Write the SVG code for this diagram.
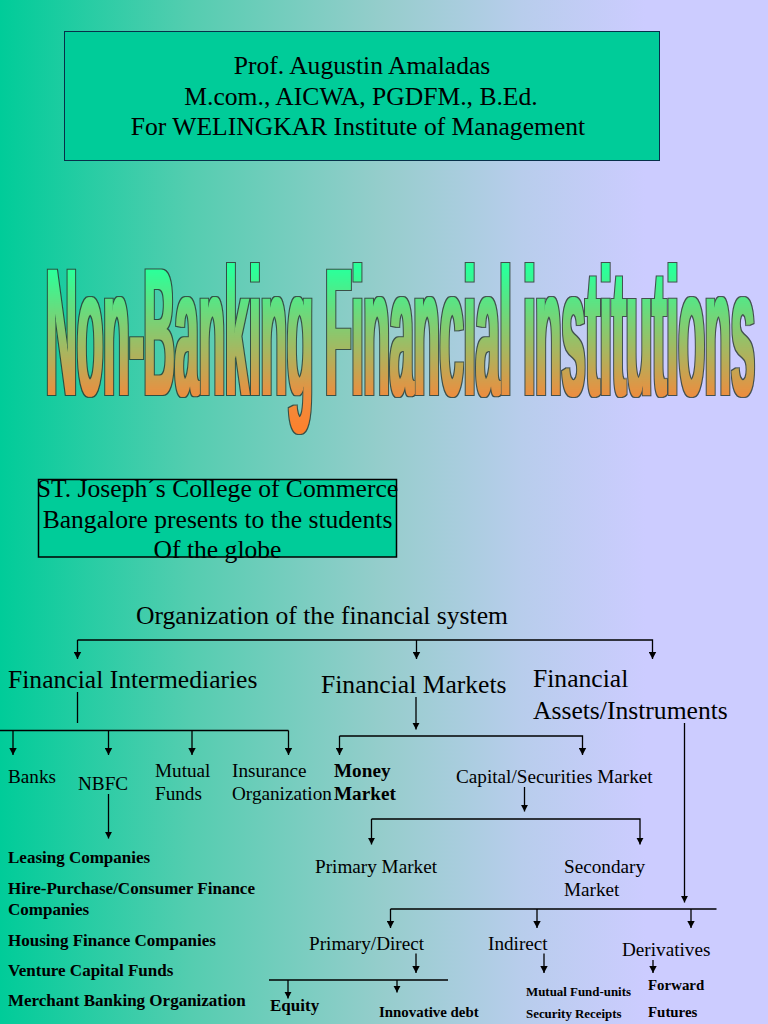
<svg xmlns="http://www.w3.org/2000/svg" width="768" height="1024" viewBox="0 0 768 1024">
<style>
text{font-family:"Liberation Serif","Times New Roman",serif;fill:#000}
.l{font-size:25.6px}.m{font-size:19.2px}.c{text-anchor:middle}
.b{font-weight:bold;font-size:17px}
.box{fill:#00cc99;stroke:#06304a;stroke-width:1}
#connectors path{fill:none;stroke:#000;stroke-width:1.3}
.a{marker-end:url(#arrow)}
</style>
<defs>
<linearGradient id="bg" x1="0" y1="0" x2="1" y2="0"><stop offset="0" stop-color="#00cc99"/><stop offset="0.25" stop-color="#55cdb0"/><stop offset="0.5" stop-color="#96cdcc"/><stop offset="0.68" stop-color="#b8cdec"/><stop offset="0.84" stop-color="#ccccff"/><stop offset="1" stop-color="#ccccff"/></linearGradient>
<linearGradient id="wa" gradientUnits="userSpaceOnUse" x1="0" y1="264" x2="0" y2="435"><stop offset="0.04" stop-color="#2cff99"/><stop offset="0.78" stop-color="#ee8c3e"/><stop offset="1" stop-color="#ff7f2a"/></linearGradient>
<filter id="wordart" x="-2%" y="-5%" width="104%" height="110%" color-interpolation-filters="sRGB">
<feMorphology in="SourceGraphic" operator="dilate" radius="1 0" result="fat"/>
<feMorphology in="SourceAlpha" operator="dilate" radius="2 1" result="edge"/>
<feFlood flood-color="#2b3a30" flood-opacity="0.85"/>
<feComposite in2="edge" operator="in" result="rim"/>
<feMerge><feMergeNode in="rim"/><feMergeNode in="fat"/></feMerge>
</filter>
<marker id="arrow" markerUnits="userSpaceOnUse" markerWidth="8" markerHeight="8" refX="7" refY="4" orient="auto"><path d="M0 0.3L7 4L0 7.7Z" style="stroke:none;fill:#000"/></marker>
</defs>
<rect width="768" height="1024" fill="url(#bg)"/>
<g id="header"><rect class="box" x="64.5" y="31.5" width="595" height="129"/>
<text class="l c" x="362" y="74">Prof. Augustin Amaladas</text>
<text class="l c" x="361" y="105">M.com., AICWA, PGDFM., B.Ed.</text>
<text class="l c" x="358" y="135">For WELINGKAR Institute of Management</text></g>
<g id="title" filter="url(#wordart)"><text transform="translate(46 395) scale(0.2374 1)" x="0" y="0" font-size="181" font-weight="bold" style="font-family:'Liberation Sans',Arial,sans-serif;fill:url(#wa2)">Non-Banking Financial institutions</text></g>
<defs><linearGradient id="wa2" gradientUnits="userSpaceOnUse" x1="0" y1="-131" x2="0" y2="40"><stop offset="0.04" stop-color="#2cff99"/><stop offset="0.78" stop-color="#ee8c3e"/><stop offset="1" stop-color="#ff7f2a"/></linearGradient></defs>
<g id="college"><rect x="38.5" y="479.5" width="358" height="77.5" fill="#00cc99" stroke="#000" stroke-width="1.5"/>
<text class="l c" x="217.5" y="497">ST. Joseph´s College of Commerce</text>
<text class="l c" x="217.5" y="528">Bangalore presents to the students</text>
<text class="l c" x="217.5" y="558">Of the globe</text></g>
<g id="connectors">
<path d="M77.5 640H652.5V659" class="a"/><path d="M77.5 640V659" class="a"/><path d="M416.5 640V659" class="a"/>
<path d="M77.5 692V723"/>
<path d="M0 730.5H288.5"/>
<path d="M13 730.5V755" class="a"/><path d="M108.5 730.5V755" class="a"/><path d="M192 730.5V755" class="a"/><path d="M288.5 730.5V755" class="a"/>
<path d="M108.5 794V838.5" class="a"/>
<path d="M416 697V729.5" class="a"/>
<path d="M339.5 736H582.5V755" class="a"/><path d="M339.5 736V755" class="a"/>
<path d="M524.5 787V811.5" class="a"/>
<path d="M371.5 819H640V844.5" class="a"/><path d="M371.5 819V844.5" class="a"/>
<path d="M684.5 723V902.5" class="a"/>
<path d="M390.5 909H716.5"/>
<path d="M390.5 909V928" class="a"/><path d="M537 909V928" class="a"/><path d="M691 909V928" class="a"/>
<path d="M416 953.5V973" class="a"/>
<path d="M269 980H448"/>
<path d="M288 980V998.5" class="a"/><path d="M397 980V992.5" class="a"/>
<path d="M544 953.5V973" class="a"/>
<path d="M653 960V973" class="a"/>
</g>
<g id="organization"><text class="l" x="136" y="624">Organization of the financial system</text></g>
<g id="intermediaries"><text class="l" x="8" y="688">Financial Intermediaries</text></g>
<g id="markets"><text class="l" x="321" y="693">Financial Markets</text></g>
<g id="assets"><text class="l" x="533" y="687">Financial</text><text class="l" x="533" y="719">Assets/Instruments</text></g>
<g id="banks"><text class="m" x="8" y="783">Banks</text></g>
<g id="nbfc"><text class="m" x="78" y="790">NBFC</text></g>
<g id="funds"><text class="m" x="155" y="777">Mutual</text><text class="m" x="155" y="800">Funds</text></g>
<g id="insurance"><text class="m" x="232" y="777">Insurance</text><text class="m" x="232" y="800">Organization</text></g>
<g id="money"><text class="m" x="334" y="777" font-weight="bold">Money</text><text class="m" x="334" y="800" font-weight="bold">Market</text></g>
<g id="capital"><text class="m" x="456" y="783">Capital/Securities Market</text></g>
<g id="nbfc-list">
<text class="b" x="8" y="863">Leasing Companies</text>
<text class="b" x="8" y="894">Hire-Purchase/Consumer Finance</text>
<text class="b" x="8" y="915">Companies</text>
<text class="b" x="8" y="946">Housing Finance Companies</text>
<text class="b" x="8" y="976">Venture Capital Funds</text>
<text class="b" x="8" y="1006">Merchant Banking Organization</text></g>
<g id="primary"><text class="m" x="315" y="873">Primary Market</text></g>
<g id="secondary"><text class="m" x="564" y="873">Secondary</text><text class="m" x="564" y="896">Market</text></g>
<g id="direct"><text class="m" x="309" y="950">Primary/Direct</text></g>
<g id="indirect"><text class="m" x="488" y="950">Indirect</text></g>
<g id="derivatives"><text class="m" x="622" y="956">Derivatives</text></g>
<g id="equity"><text x="270" y="1011" font-size="17" font-weight="bold">Equity</text></g>
<g id="innovative"><text x="379" y="1016.5" font-size="14.9" font-weight="bold">Innovative debt</text></g>
<g id="indirect-list"><text x="526" y="996" font-size="12.9" font-weight="bold">Mutual Fund-units</text><text x="526" y="1018" font-size="12.9" font-weight="bold">Security Receipts</text></g>
<g id="derivative-list"><text x="648" y="990" font-size="14.9" font-weight="bold">Forward</text><text x="648" y="1017" font-size="14.9" font-weight="bold">Futures</text></g>
</svg>
